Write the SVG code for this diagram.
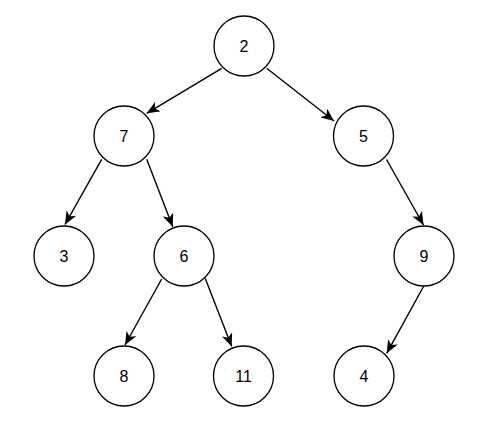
<svg xmlns="http://www.w3.org/2000/svg" width="495" height="439" viewBox="0 0 495 439">
<style>
.node circle{fill:#fff;stroke:#000;stroke-width:1.3}
.node text{font-family:"Liberation Sans",Arial,sans-serif;font-size:16px;fill:#000;text-anchor:middle}
.edge{fill:none;stroke:#000;stroke-width:1.4;marker-end:url(#arr)}
</style>
<defs>
<marker id="arr" markerUnits="userSpaceOnUse" viewBox="0 0 13 11" refX="13" refY="5.5" markerWidth="13" markerHeight="11" orient="auto">
<path d="M0,0 L13,5.5 L0,11 L3.5,5.5 Z" fill="#000"/>
</marker>
</defs>
<rect width="495" height="439" fill="#fff"/>
<g id="connectors">
<path class="edge" d="M221.7,68.3 L146.7,113.3"/>
<path class="edge" d="M266.7,68.3 L334,121"/>
<path class="edge" d="M101.7,159.3 L65,224.5"/>
<path class="edge" d="M146.7,159.3 L172.7,226.7"/>
<path class="edge" d="M386.5,159.5 L423.5,225"/>
<path class="edge" d="M161.7,279 L125,345"/>
<path class="edge" d="M205.3,278.5 L231.7,346.5"/>
<path class="edge" d="M423.5,286.5 L386.7,353.3"/>
</g>
<g id="n2" class="node"><circle cx="244" cy="46" r="30"/><text x="244" y="52">2</text></g>
<g id="n7" class="node"><circle cx="124" cy="136" r="30"/><text x="124" y="142">7</text></g>
<g id="n5" class="node"><circle cx="363.5" cy="136" r="30"/><text x="363.5" y="142">5</text></g>
<g id="n3" class="node"><circle cx="64" cy="256" r="30"/><text x="64" y="262">3</text></g>
<g id="n6" class="node"><circle cx="184" cy="256" r="30"/><text x="184" y="262">6</text></g>
<g id="n9" class="node"><circle cx="424" cy="256" r="30"/><text x="424" y="262">9</text></g>
<g id="n8" class="node"><circle cx="124" cy="376" r="30"/><text x="124" y="382">8</text></g>
<g id="n11" class="node"><circle cx="243.5" cy="376" r="30"/><text x="243.5" y="382">11</text></g>
<g id="n4" class="node"><circle cx="364" cy="376" r="30"/><text x="364" y="382">4</text></g>
</svg>
